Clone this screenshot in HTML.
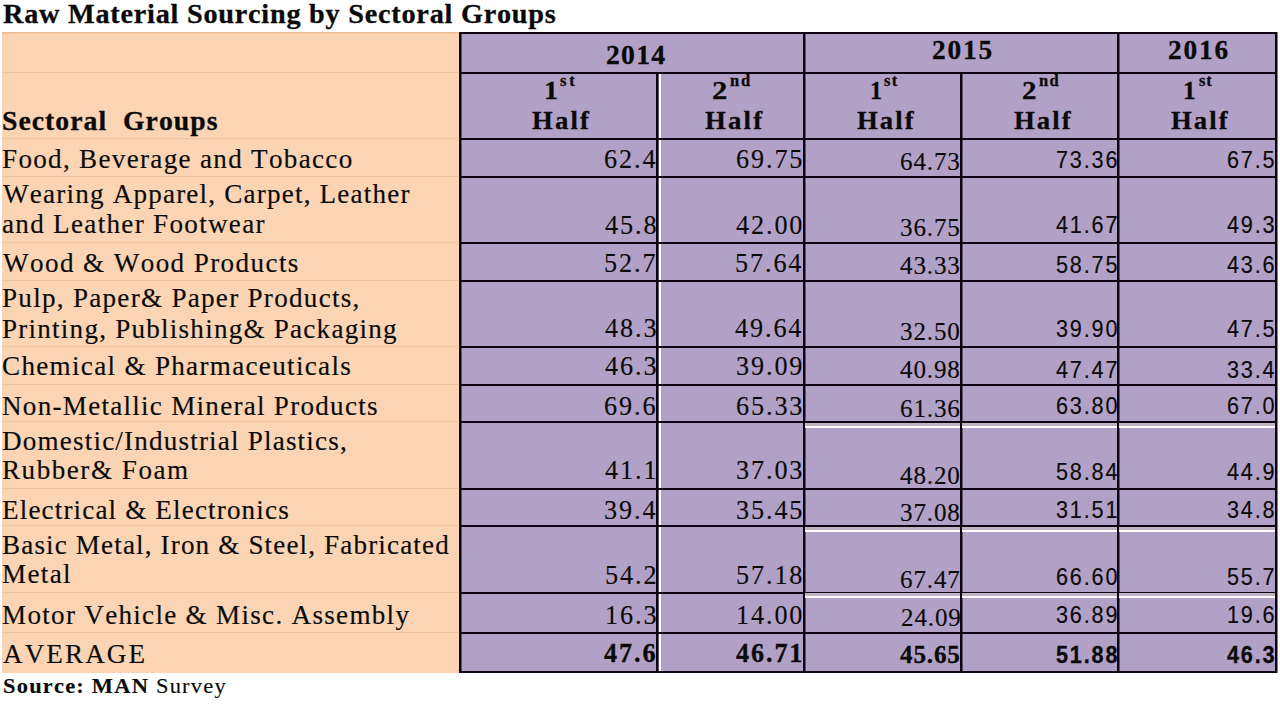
<!DOCTYPE html>
<html><head><meta charset="utf-8"><title>Raw Material Sourcing by Sectoral Groups</title>
<style>
*{margin:0;padding:0;box-sizing:border-box}
html,body{width:1280px;height:720px;overflow:hidden;background:#fff}
.t{position:absolute;line-height:1;white-space:nowrap;transform-origin:0 0;color:#0a0a0a;font-kerning:none;-webkit-text-stroke:0.15px #0a0a0a}
.r{position:absolute}
</style></head>
<body>
<div class='r' style='left:2px;top:32px;width:456.5px;height:641px;background:#FBD4B4'></div>
<div class='r' style='left:459px;top:32px;width:818px;height:641px;background:#B2A1C7'></div>
<div class='r' style='left:2px;top:32px;width:456.5px;height:1px;background:#EEC19B'></div>
<div class='r' style='left:2px;top:33px;width:456.5px;height:1px;background:#F8C89F'></div>
<div class='r' style='left:2px;top:72px;width:456px;height:1px;background:#EEC4A2'></div>
<div class='r' style='left:2px;top:138px;width:456px;height:1px;background:#EEC4A2'></div>
<div class='r' style='left:2px;top:176px;width:456px;height:1px;background:#EEC4A2'></div>
<div class='r' style='left:2px;top:242px;width:456px;height:1px;background:#EEC4A2'></div>
<div class='r' style='left:2px;top:280px;width:456px;height:1px;background:#EEC4A2'></div>
<div class='r' style='left:2px;top:346px;width:456px;height:1px;background:#EEC4A2'></div>
<div class='r' style='left:2px;top:384px;width:456px;height:1px;background:#EEC4A2'></div>
<div class='r' style='left:2px;top:421px;width:456px;height:1px;background:#EEC4A2'></div>
<div class='r' style='left:2px;top:488px;width:456px;height:1px;background:#EEC4A2'></div>
<div class='r' style='left:2px;top:525px;width:456px;height:1px;background:#EEC4A2'></div>
<div class='r' style='left:2px;top:592px;width:456px;height:1px;background:#EEC4A2'></div>
<div class='r' style='left:2px;top:632px;width:456px;height:1px;background:#EEC4A2'></div>
<div class='r' style='left:459px;top:32px;width:818px;height:2px;background:#0c0412'></div>
<div class='r' style='left:459px;top:72px;width:818px;height:2px;background:#0c0412'></div>
<div class='r' style='left:459px;top:138px;width:818px;height:2px;background:#0c0412'></div>
<div class='r' style='left:459px;top:176px;width:818px;height:2px;background:#0c0412'></div>
<div class='r' style='left:459px;top:242px;width:818px;height:2px;background:#0c0412'></div>
<div class='r' style='left:459px;top:280px;width:818px;height:2px;background:#0c0412'></div>
<div class='r' style='left:459px;top:346px;width:818px;height:2px;background:#0c0412'></div>
<div class='r' style='left:459px;top:384px;width:818px;height:2px;background:#0c0412'></div>
<div class='r' style='left:459px;top:421px;width:818px;height:2px;background:#0c0412'></div>
<div class='r' style='left:459px;top:488px;width:818px;height:2px;background:#0c0412'></div>
<div class='r' style='left:459px;top:525px;width:818px;height:2px;background:#0c0412'></div>
<div class='r' style='left:459px;top:592px;width:818px;height:2px;background:#0c0412'></div>
<div class='r' style='left:459px;top:632px;width:818px;height:2px;background:#0c0412'></div>
<div class='r' style='left:459px;top:671px;width:818px;height:2px;background:#0c0412'></div>
<div class='r' style='left:459px;top:32px;width:2px;height:641px;background:#0c0412'></div>
<div class='r' style='left:461px;top:32px;width:1px;height:641px;background:rgba(12,4,18,0.5)'></div>
<div class='r' style='left:656px;top:72px;width:2px;height:601px;background:#0c0412'></div>
<div class='r' style='left:658px;top:72px;width:1px;height:601px;background:rgba(12,4,18,0.5)'></div>
<div class='r' style='left:803px;top:32px;width:2px;height:641px;background:#0c0412'></div>
<div class='r' style='left:805px;top:32px;width:1px;height:641px;background:rgba(12,4,18,0.5)'></div>
<div class='r' style='left:960px;top:72px;width:2px;height:601px;background:#0c0412'></div>
<div class='r' style='left:962px;top:72px;width:1px;height:601px;background:rgba(12,4,18,0.5)'></div>
<div class='r' style='left:1117px;top:32px;width:2px;height:641px;background:#0c0412'></div>
<div class='r' style='left:1119px;top:32px;width:1px;height:641px;background:rgba(12,4,18,0.5)'></div>
<div class='r' style='left:1275px;top:32px;width:2px;height:641px;background:#0c0412'></div>
<div class='r' style='left:1277px;top:32px;width:1px;height:641px;background:rgba(12,4,18,0.5)'></div>
<div class='r' style='left:659px;top:74px;width:2px;height:64px;background:#ffffff'></div>
<div class='r' style='left:659px;top:140px;width:2px;height:36px;background:#ffffff'></div>
<div class='r' style='left:659px;top:178px;width:2px;height:64px;background:#ffffff'></div>
<div class='r' style='left:659px;top:244px;width:2px;height:36px;background:#ffffff'></div>
<div class='r' style='left:659px;top:282px;width:2px;height:64px;background:#ffffff'></div>
<div class='r' style='left:659px;top:348px;width:2px;height:36px;background:#ffffff'></div>
<div class='r' style='left:659px;top:386px;width:2px;height:35px;background:#ffffff'></div>
<div class='r' style='left:659px;top:423px;width:2px;height:65px;background:#ffffff'></div>
<div class='r' style='left:659px;top:490px;width:2px;height:35px;background:#ffffff'></div>
<div class='r' style='left:659px;top:527px;width:2px;height:65px;background:#ffffff'></div>
<div class='r' style='left:659px;top:594px;width:2px;height:38px;background:#ffffff'></div>
<div class='r' style='left:659px;top:634px;width:2px;height:37px;background:#ffffff'></div>
<div class='r' style='left:805px;top:426px;width:155px;height:2px;background:#ffffff'></div>
<div class='r' style='left:805px;top:423px;width:155px;height:3px;background:#bfb3c4'></div>
<div class='r' style='left:962px;top:426px;width:155px;height:2px;background:#ffffff'></div>
<div class='r' style='left:962px;top:423px;width:155px;height:3px;background:#bfb3c4'></div>
<div class='r' style='left:1119px;top:426px;width:156px;height:2px;background:#ffffff'></div>
<div class='r' style='left:1119px;top:423px;width:156px;height:3px;background:#bfb3c4'></div>
<div class='r' style='left:805px;top:530px;width:155px;height:2px;background:#ffffff'></div>
<div class='r' style='left:805px;top:527px;width:155px;height:3px;background:#bfb3c4'></div>
<div class='r' style='left:962px;top:530px;width:155px;height:2px;background:#ffffff'></div>
<div class='r' style='left:962px;top:527px;width:155px;height:3px;background:#bfb3c4'></div>
<div class='r' style='left:1119px;top:530px;width:156px;height:2px;background:#ffffff'></div>
<div class='r' style='left:1119px;top:527px;width:156px;height:3px;background:#bfb3c4'></div>
<div class='r' style='left:805px;top:596px;width:155px;height:2px;background:#ffffff'></div>
<div class='r' style='left:805px;top:593px;width:155px;height:3px;background:#bfb3c4'></div>
<div class='r' style='left:962px;top:596px;width:155px;height:2px;background:#ffffff'></div>
<div class='r' style='left:962px;top:593px;width:155px;height:3px;background:#bfb3c4'></div>
<div class='r' style='left:1119px;top:596px;width:156px;height:2px;background:#ffffff'></div>
<div class='r' style='left:1119px;top:593px;width:156px;height:3px;background:#bfb3c4'></div>
<div class='t' style='left:2.80px;top:0.20px;font-family:"Liberation Serif",serif;font-weight:bold;font-size:27.7px;letter-spacing:0.743px;transform:scaleX(1.0200);-webkit-text-stroke:0.3px #0a0a0a'>Raw Material Sourcing by Sectoral Groups</div>
<div class='t' style='left:2.38px;top:107.50px;font-family:"Liberation Serif",serif;font-weight:bold;font-size:27.2px;letter-spacing:0.993px;transform:scaleX(1.0200);-webkit-text-stroke:0.3px #0a0a0a'>Sectoral&nbsp; Groups</div>
<div class='t' style='left:605.58px;top:41.60px;font-family:"Liberation Serif",serif;font-weight:bold;font-size:27.2px;letter-spacing:1.222px;transform:scaleX(1.0200);-webkit-text-stroke:0.3px #0a0a0a'>2014</div>
<div class='t' style='left:931.78px;top:37.40px;font-family:"Liberation Serif",serif;font-weight:bold;font-size:26.8px;letter-spacing:1.768px;transform:scaleX(1.0200);-webkit-text-stroke:0.3px #0a0a0a'>2015</div>
<div class='t' style='left:1167.73px;top:37.40px;font-family:"Liberation Serif",serif;font-weight:bold;font-size:26.8px;letter-spacing:1.768px;transform:scaleX(1.0200);-webkit-text-stroke:0.3px #0a0a0a'>2016</div>
<div class='t' style='left:544.32px;top:77.80px;font-family:"Liberation Serif",serif;font-weight:bold;font-size:25.8px;letter-spacing:0.000px;transform:scaleX(1.0900);-webkit-text-stroke:0.3px #0a0a0a'>1</div>
<div class='t' style='left:560.00px;top:73.00px;font-family:"Liberation Serif",serif;font-weight:bold;font-size:16.2px;letter-spacing:2.706px;transform:scaleX(1.0200);-webkit-text-stroke:0.3px #0a0a0a'>st</div>
<div class='t' style='left:531.70px;top:108.40px;font-family:"Liberation Serif",serif;font-weight:bold;font-size:26.2px;letter-spacing:2.124px;transform:scaleX(1.0200);-webkit-text-stroke:0.3px #0a0a0a'>Half</div>
<div class='t' style='left:712.41px;top:77.80px;font-family:"Liberation Serif",serif;font-weight:bold;font-size:25.8px;letter-spacing:0.000px;transform:scaleX(1.1909);-webkit-text-stroke:0.3px #0a0a0a'>2</div>
<div class='t' style='left:730.00px;top:73.00px;font-family:"Liberation Serif",serif;font-weight:bold;font-size:16.2px;letter-spacing:1.902px;transform:scaleX(1.0200);-webkit-text-stroke:0.3px #0a0a0a'>nd</div>
<div class='t' style='left:704.60px;top:108.40px;font-family:"Liberation Serif",serif;font-weight:bold;font-size:26.2px;letter-spacing:2.190px;transform:scaleX(1.0200);-webkit-text-stroke:0.3px #0a0a0a'>Half</div>
<div class='t' style='left:869.54px;top:77.80px;font-family:"Liberation Serif",serif;font-weight:bold;font-size:25.8px;letter-spacing:0.000px;transform:scaleX(0.9300);-webkit-text-stroke:0.3px #0a0a0a'>1</div>
<div class='t' style='left:884.30px;top:73.00px;font-family:"Liberation Serif",serif;font-weight:bold;font-size:16.2px;letter-spacing:1.333px;transform:scaleX(1.0200);-webkit-text-stroke:0.3px #0a0a0a'>st</div>
<div class='t' style='left:856.70px;top:108.40px;font-family:"Liberation Serif",serif;font-weight:bold;font-size:26.2px;letter-spacing:2.026px;transform:scaleX(1.0200);-webkit-text-stroke:0.3px #0a0a0a'>Half</div>
<div class='t' style='left:1021.88px;top:77.80px;font-family:"Liberation Serif",serif;font-weight:bold;font-size:25.8px;letter-spacing:0.000px;transform:scaleX(1.1182);-webkit-text-stroke:0.3px #0a0a0a'>2</div>
<div class='t' style='left:1038.50px;top:73.00px;font-family:"Liberation Serif",serif;font-weight:bold;font-size:16.2px;letter-spacing:1.314px;transform:scaleX(1.0200);-webkit-text-stroke:0.3px #0a0a0a'>nd</div>
<div class='t' style='left:1014.00px;top:108.40px;font-family:"Liberation Serif",serif;font-weight:bold;font-size:26.2px;letter-spacing:2.026px;transform:scaleX(1.0200);-webkit-text-stroke:0.3px #0a0a0a'>Half</div>
<div class='t' style='left:1183.28px;top:77.80px;font-family:"Liberation Serif",serif;font-weight:bold;font-size:25.8px;letter-spacing:0.000px;transform:scaleX(0.9850);-webkit-text-stroke:0.3px #0a0a0a'>1</div>
<div class='t' style='left:1198.70px;top:73.00px;font-family:"Liberation Serif",serif;font-weight:bold;font-size:16.2px;letter-spacing:0.843px;transform:scaleX(1.0200);-webkit-text-stroke:0.3px #0a0a0a'>st</div>
<div class='t' style='left:1170.70px;top:108.40px;font-family:"Liberation Serif",serif;font-weight:bold;font-size:26.2px;letter-spacing:2.026px;transform:scaleX(1.0200);-webkit-text-stroke:0.3px #0a0a0a'>Half</div>
<div class='t' style='left:2.38px;top:145.60px;font-family:"Liberation Serif",serif;font-weight:normal;font-size:26.6px;letter-spacing:1.271px;transform:scaleX(1.0200)'>Food, Beverage and Tobacco</div>
<div class='t' style='left:3.40px;top:180.90px;font-family:"Liberation Serif",serif;font-weight:normal;font-size:26.6px;letter-spacing:1.162px;transform:scaleX(1.0200)'>Wearing Apparel, Carpet, Leather</div>
<div class='t' style='left:2.38px;top:211.30px;font-family:"Liberation Serif",serif;font-weight:normal;font-size:26.6px;letter-spacing:1.267px;transform:scaleX(1.0200)'>and Leather Footwear</div>
<div class='t' style='left:3.40px;top:249.70px;font-family:"Liberation Serif",serif;font-weight:normal;font-size:26.6px;letter-spacing:1.364px;transform:scaleX(1.0200)'>Wood &amp; Wood Products</div>
<div class='t' style='left:2.38px;top:284.60px;font-family:"Liberation Serif",serif;font-weight:normal;font-size:26.6px;letter-spacing:1.239px;transform:scaleX(1.0200)'>Pulp, Paper&amp; Paper Products,</div>
<div class='t' style='left:2.38px;top:315.60px;font-family:"Liberation Serif",serif;font-weight:normal;font-size:26.6px;letter-spacing:1.197px;transform:scaleX(1.0200)'>Printing, Publishing&amp; Packaging</div>
<div class='t' style='left:2.38px;top:352.60px;font-family:"Liberation Serif",serif;font-weight:normal;font-size:26.6px;letter-spacing:1.272px;transform:scaleX(1.0200)'>Chemical &amp; Pharmaceuticals</div>
<div class='t' style='left:2.38px;top:392.70px;font-family:"Liberation Serif",serif;font-weight:normal;font-size:26.6px;letter-spacing:1.228px;transform:scaleX(1.0200)'>Non-Metallic Mineral Products</div>
<div class='t' style='left:2.38px;top:427.70px;font-family:"Liberation Serif",serif;font-weight:normal;font-size:26.6px;letter-spacing:1.150px;transform:scaleX(1.0200)'>Domestic/Industrial Plastics,</div>
<div class='t' style='left:2.38px;top:456.80px;font-family:"Liberation Serif",serif;font-weight:normal;font-size:26.6px;letter-spacing:1.480px;transform:scaleX(1.0200)'>Rubber&amp; Foam</div>
<div class='t' style='left:2.38px;top:497.30px;font-family:"Liberation Serif",serif;font-weight:normal;font-size:26.6px;letter-spacing:1.113px;transform:scaleX(1.0200)'>Electrical &amp; Electronics</div>
<div class='t' style='left:2.38px;top:531.50px;font-family:"Liberation Serif",serif;font-weight:normal;font-size:26.6px;letter-spacing:1.110px;transform:scaleX(1.0200)'>Basic Metal, Iron &amp; Steel, Fabricated</div>
<div class='t' style='left:2.38px;top:561.00px;font-family:"Liberation Serif",serif;font-weight:normal;font-size:26.6px;letter-spacing:1.319px;transform:scaleX(1.0200)'>Metal</div>
<div class='t' style='left:2.38px;top:601.60px;font-family:"Liberation Serif",serif;font-weight:normal;font-size:26.6px;letter-spacing:1.253px;transform:scaleX(1.0200)'>Motor Vehicle &amp; Misc. Assembly</div>
<div class='t' style='left:3.40px;top:640.70px;font-family:"Liberation Serif",serif;font-weight:normal;font-size:26.6px;letter-spacing:2.039px;transform:scaleX(1.0200)'>AVERAGE</div>
<div class='t' style='left:2.52px;top:676.00px;font-family:"Liberation Serif",serif;font-weight:normal;font-size:20.8px;letter-spacing:1.118px;transform:scaleX(1.0800)'><b>Source: MAN</b> Survey</div>
<div class='t' style='left:603.76px;top:146.00px;font-family:"Liberation Serif",serif;font-weight:normal;font-size:27.0px;letter-spacing:1.941px;transform:scaleX(0.9700)'>62.4</div>
<div class='t' style='left:735.67px;top:146.00px;font-family:"Liberation Serif",serif;font-weight:normal;font-size:27.0px;letter-spacing:1.941px;transform:scaleX(0.9700)'>69.75</div>
<div class='t' style='left:899.73px;top:150.00px;font-family:"Liberation Serif",serif;font-weight:normal;font-size:24.6px;letter-spacing:0.826px;transform:scaleX(1.0200)'>64.73</div>
<div class='t' style='left:1056.00px;top:148.80px;font-family:"Liberation Sans",sans-serif;font-weight:normal;font-size:23.0px;letter-spacing:1.946px;transform:scaleX(0.9400)'>73.36</div>
<div class='t' style='left:1227.45px;top:148.80px;font-family:"Liberation Sans",sans-serif;font-weight:normal;font-size:23.0px;letter-spacing:1.946px;transform:scaleX(0.9400)'>67.5</div>
<div class='t' style='left:604.73px;top:211.60px;font-family:"Liberation Serif",serif;font-weight:normal;font-size:27.0px;letter-spacing:1.941px;transform:scaleX(0.9700)'>45.8</div>
<div class='t' style='left:735.67px;top:211.60px;font-family:"Liberation Serif",serif;font-weight:normal;font-size:27.0px;letter-spacing:1.941px;transform:scaleX(0.9700)'>42.00</div>
<div class='t' style='left:899.73px;top:215.60px;font-family:"Liberation Serif",serif;font-weight:normal;font-size:24.6px;letter-spacing:0.826px;transform:scaleX(1.0200)'>36.75</div>
<div class='t' style='left:1056.00px;top:214.30px;font-family:"Liberation Sans",sans-serif;font-weight:normal;font-size:23.0px;letter-spacing:1.946px;transform:scaleX(0.9400)'>41.67</div>
<div class='t' style='left:1227.45px;top:214.30px;font-family:"Liberation Sans",sans-serif;font-weight:normal;font-size:23.0px;letter-spacing:1.946px;transform:scaleX(0.9400)'>49.3</div>
<div class='t' style='left:603.76px;top:249.70px;font-family:"Liberation Serif",serif;font-weight:normal;font-size:27.0px;letter-spacing:1.941px;transform:scaleX(0.9700)'>52.7</div>
<div class='t' style='left:734.70px;top:249.70px;font-family:"Liberation Serif",serif;font-weight:normal;font-size:27.0px;letter-spacing:1.941px;transform:scaleX(0.9700)'>57.64</div>
<div class='t' style='left:899.73px;top:253.70px;font-family:"Liberation Serif",serif;font-weight:normal;font-size:24.6px;letter-spacing:0.826px;transform:scaleX(1.0200)'>43.33</div>
<div class='t' style='left:1056.00px;top:254.40px;font-family:"Liberation Sans",sans-serif;font-weight:normal;font-size:23.0px;letter-spacing:1.946px;transform:scaleX(0.9400)'>58.75</div>
<div class='t' style='left:1227.45px;top:254.40px;font-family:"Liberation Sans",sans-serif;font-weight:normal;font-size:23.0px;letter-spacing:1.946px;transform:scaleX(0.9400)'>43.6</div>
<div class='t' style='left:604.73px;top:315.30px;font-family:"Liberation Serif",serif;font-weight:normal;font-size:27.0px;letter-spacing:1.941px;transform:scaleX(0.9700)'>48.3</div>
<div class='t' style='left:734.70px;top:315.30px;font-family:"Liberation Serif",serif;font-weight:normal;font-size:27.0px;letter-spacing:1.941px;transform:scaleX(0.9700)'>49.64</div>
<div class='t' style='left:899.73px;top:319.50px;font-family:"Liberation Serif",serif;font-weight:normal;font-size:24.6px;letter-spacing:0.826px;transform:scaleX(1.0200)'>32.50</div>
<div class='t' style='left:1056.00px;top:317.80px;font-family:"Liberation Sans",sans-serif;font-weight:normal;font-size:23.0px;letter-spacing:1.946px;transform:scaleX(0.9400)'>39.90</div>
<div class='t' style='left:1227.45px;top:317.80px;font-family:"Liberation Sans",sans-serif;font-weight:normal;font-size:23.0px;letter-spacing:1.946px;transform:scaleX(0.9400)'>47.5</div>
<div class='t' style='left:604.73px;top:352.80px;font-family:"Liberation Serif",serif;font-weight:normal;font-size:27.0px;letter-spacing:1.941px;transform:scaleX(0.9700)'>46.3</div>
<div class='t' style='left:735.67px;top:352.80px;font-family:"Liberation Serif",serif;font-weight:normal;font-size:27.0px;letter-spacing:1.941px;transform:scaleX(0.9700)'>39.09</div>
<div class='t' style='left:899.73px;top:357.80px;font-family:"Liberation Serif",serif;font-weight:normal;font-size:24.6px;letter-spacing:0.826px;transform:scaleX(1.0200)'>40.98</div>
<div class='t' style='left:1056.00px;top:358.80px;font-family:"Liberation Sans",sans-serif;font-weight:normal;font-size:23.0px;letter-spacing:1.946px;transform:scaleX(0.9400)'>47.47</div>
<div class='t' style='left:1227.45px;top:358.80px;font-family:"Liberation Sans",sans-serif;font-weight:normal;font-size:23.0px;letter-spacing:1.946px;transform:scaleX(0.9400)'>33.4</div>
<div class='t' style='left:603.76px;top:393.30px;font-family:"Liberation Serif",serif;font-weight:normal;font-size:27.0px;letter-spacing:1.941px;transform:scaleX(0.9700)'>69.6</div>
<div class='t' style='left:735.67px;top:393.30px;font-family:"Liberation Serif",serif;font-weight:normal;font-size:27.0px;letter-spacing:1.941px;transform:scaleX(0.9700)'>65.33</div>
<div class='t' style='left:899.73px;top:396.90px;font-family:"Liberation Serif",serif;font-weight:normal;font-size:24.6px;letter-spacing:0.826px;transform:scaleX(1.0200)'>61.36</div>
<div class='t' style='left:1056.00px;top:395.40px;font-family:"Liberation Sans",sans-serif;font-weight:normal;font-size:23.0px;letter-spacing:1.946px;transform:scaleX(0.9400)'>63.80</div>
<div class='t' style='left:1227.45px;top:395.40px;font-family:"Liberation Sans",sans-serif;font-weight:normal;font-size:23.0px;letter-spacing:1.946px;transform:scaleX(0.9400)'>67.0</div>
<div class='t' style='left:604.73px;top:456.80px;font-family:"Liberation Serif",serif;font-weight:normal;font-size:27.0px;letter-spacing:1.941px;transform:scaleX(0.9700)'>41.1</div>
<div class='t' style='left:735.67px;top:456.80px;font-family:"Liberation Serif",serif;font-weight:normal;font-size:27.0px;letter-spacing:1.941px;transform:scaleX(0.9700)'>37.03</div>
<div class='t' style='left:899.73px;top:464.00px;font-family:"Liberation Serif",serif;font-weight:normal;font-size:24.6px;letter-spacing:0.826px;transform:scaleX(1.0200)'>48.20</div>
<div class='t' style='left:1056.00px;top:461.30px;font-family:"Liberation Sans",sans-serif;font-weight:normal;font-size:23.0px;letter-spacing:1.946px;transform:scaleX(0.9400)'>58.84</div>
<div class='t' style='left:1227.45px;top:461.30px;font-family:"Liberation Sans",sans-serif;font-weight:normal;font-size:23.0px;letter-spacing:1.946px;transform:scaleX(0.9400)'>44.9</div>
<div class='t' style='left:603.76px;top:496.70px;font-family:"Liberation Serif",serif;font-weight:normal;font-size:27.0px;letter-spacing:1.941px;transform:scaleX(0.9700)'>39.4</div>
<div class='t' style='left:735.67px;top:496.70px;font-family:"Liberation Serif",serif;font-weight:normal;font-size:27.0px;letter-spacing:1.941px;transform:scaleX(0.9700)'>35.45</div>
<div class='t' style='left:899.73px;top:501.00px;font-family:"Liberation Serif",serif;font-weight:normal;font-size:24.6px;letter-spacing:0.826px;transform:scaleX(1.0200)'>37.08</div>
<div class='t' style='left:1056.00px;top:499.40px;font-family:"Liberation Sans",sans-serif;font-weight:normal;font-size:23.0px;letter-spacing:1.946px;transform:scaleX(0.9400)'>31.51</div>
<div class='t' style='left:1227.45px;top:499.40px;font-family:"Liberation Sans",sans-serif;font-weight:normal;font-size:23.0px;letter-spacing:1.946px;transform:scaleX(0.9400)'>34.8</div>
<div class='t' style='left:604.73px;top:561.50px;font-family:"Liberation Serif",serif;font-weight:normal;font-size:27.0px;letter-spacing:1.941px;transform:scaleX(0.9700)'>54.2</div>
<div class='t' style='left:735.67px;top:561.50px;font-family:"Liberation Serif",serif;font-weight:normal;font-size:27.0px;letter-spacing:1.941px;transform:scaleX(0.9700)'>57.18</div>
<div class='t' style='left:899.73px;top:567.50px;font-family:"Liberation Serif",serif;font-weight:normal;font-size:24.6px;letter-spacing:0.826px;transform:scaleX(1.0200)'>67.47</div>
<div class='t' style='left:1056.00px;top:566.00px;font-family:"Liberation Sans",sans-serif;font-weight:normal;font-size:23.0px;letter-spacing:1.946px;transform:scaleX(0.9400)'>66.60</div>
<div class='t' style='left:1227.45px;top:566.00px;font-family:"Liberation Sans",sans-serif;font-weight:normal;font-size:23.0px;letter-spacing:1.946px;transform:scaleX(0.9400)'>55.7</div>
<div class='t' style='left:604.73px;top:601.50px;font-family:"Liberation Serif",serif;font-weight:normal;font-size:27.0px;letter-spacing:1.941px;transform:scaleX(0.9700)'>16.3</div>
<div class='t' style='left:735.67px;top:601.50px;font-family:"Liberation Serif",serif;font-weight:normal;font-size:27.0px;letter-spacing:1.941px;transform:scaleX(0.9700)'>14.00</div>
<div class='t' style='left:900.75px;top:605.60px;font-family:"Liberation Serif",serif;font-weight:normal;font-size:24.6px;letter-spacing:0.826px;transform:scaleX(1.0200)'>24.09</div>
<div class='t' style='left:1056.00px;top:603.50px;font-family:"Liberation Sans",sans-serif;font-weight:normal;font-size:23.0px;letter-spacing:1.946px;transform:scaleX(0.9400)'>36.89</div>
<div class='t' style='left:1227.45px;top:603.50px;font-family:"Liberation Sans",sans-serif;font-weight:normal;font-size:23.0px;letter-spacing:1.946px;transform:scaleX(0.9400)'>19.6</div>
<div class='t' style='left:603.76px;top:640.30px;font-family:"Liberation Serif",serif;font-weight:bold;font-size:27.0px;letter-spacing:1.941px;transform:scaleX(0.9700);-webkit-text-stroke:0.3px #0a0a0a'>47.6</div>
<div class='t' style='left:735.67px;top:640.30px;font-family:"Liberation Serif",serif;font-weight:bold;font-size:27.0px;letter-spacing:1.941px;transform:scaleX(0.9700);-webkit-text-stroke:0.3px #0a0a0a'>46.71</div>
<div class='t' style='left:899.73px;top:643.10px;font-family:"Liberation Serif",serif;font-weight:bold;font-size:24.6px;letter-spacing:0.826px;transform:scaleX(1.0200);-webkit-text-stroke:0.3px #0a0a0a'>45.65</div>
<div class='t' style='left:1056.00px;top:643.50px;font-family:"Liberation Sans",sans-serif;font-weight:bold;font-size:23.0px;letter-spacing:1.946px;transform:scaleX(0.9400);-webkit-text-stroke:0.3px #0a0a0a'>51.88</div>
<div class='t' style='left:1227.45px;top:643.50px;font-family:"Liberation Sans",sans-serif;font-weight:bold;font-size:23.0px;letter-spacing:1.946px;transform:scaleX(0.9400);-webkit-text-stroke:0.3px #0a0a0a'>46.3</div>
</body></html>
